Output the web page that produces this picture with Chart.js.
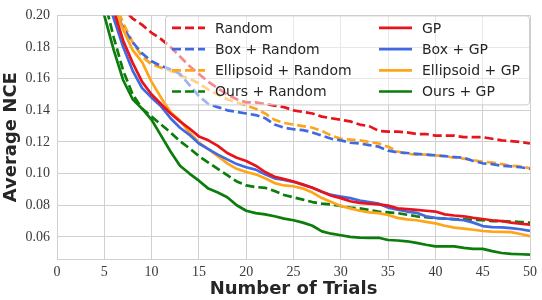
<!DOCTYPE html>
<html>
<head>
<meta charset="utf-8">
<script src="https://cdn.jsdelivr.net/npm/chart.js@4.4.1/dist/chart.umd.min.js"></script>
<style>
  html, body { margin: 0; padding: 0; background: #fff; }
</style>
</head>
<body>
<canvas id="grafico" width="542" height="300"></canvas>
<script>
// Número de tentativas (eixo x) e valores
const trials = [4, 5, 6, 7, 8, 9, 10, 11, 12, 13, 14, 15, 16, 17, 18, 19, 20, 21, 22, 23, 24, 25, 26, 27,
    28, 29, 30, 31, 32, 33, 34, 35, 36, 37, 38, 39, 40, 41, 42, 43, 44, 45, 46, 47, 48, 49, 50];

const random = [0.225, 0.218, 0.211, 0.204, 0.198, 0.194, 0.189, 0.185, 0.180, 0.174, 0.168, 0.163,
    0.158, 0.154, 0.150, 0.147, 0.145, 0.145, 0.144, 0.143, 0.142, 0.140, 0.139, 0.138, 0.136, 0.135,
    0.134, 0.133, 0.131, 0.130, 0.127, 0.1265, 0.1265, 0.126, 0.125, 0.125, 0.124, 0.124, 0.124,
    0.123, 0.123, 0.123, 0.122, 0.121, 0.1205, 0.120, 0.119];
const boxRandom = [0.235, 0.220, 0.205, 0.192, 0.183, 0.176, 0.171, 0.168, 0.166, 0.163, 0.156, 0.149,
    0.144, 0.142, 0.140, 0.139, 0.138, 0.137, 0.135, 0.131, 0.129, 0.128, 0.1275, 0.126, 0.124, 0.122,
    0.121, 0.1195, 0.119, 0.118, 0.117, 0.1145, 0.1135, 0.113, 0.1125, 0.112, 0.1115, 0.111, 0.1105,
    0.110, 0.108, 0.1065, 0.106, 0.105, 0.1045, 0.104, 0.103];
const ellipsoidRandom = [0.240, 0.225, 0.210, 0.195, 0.183, 0.174, 0.169, 0.167, 0.165, 0.162, 0.160,
    0.157, 0.153, 0.150, 0.147, 0.145, 0.143, 0.141, 0.138, 0.134, 0.132, 0.131, 0.130, 0.129, 0.127,
    0.124, 0.122, 0.1215, 0.121, 0.120, 0.119, 0.117, 0.114, 0.1125, 0.112, 0.112, 0.1115, 0.111,
    0.110, 0.1095, 0.1085, 0.1075, 0.107, 0.106, 0.105, 0.1045, 0.1035];
const oursRandom = [0.235, 0.210, 0.186, 0.165, 0.150, 0.141, 0.136, 0.131, 0.126, 0.1205, 0.116, 0.111,
    0.107, 0.103, 0.099, 0.095, 0.0925, 0.0915, 0.091, 0.089, 0.0865, 0.085, 0.0835, 0.082, 0.081,
    0.0805, 0.0795, 0.0785, 0.078, 0.077, 0.076, 0.0755, 0.075, 0.074, 0.073, 0.0725, 0.0718, 0.0715,
    0.0712, 0.071, 0.0708, 0.0705, 0.070, 0.070, 0.0697, 0.0694, 0.069];
const gp = [0.240, 0.222, 0.203, 0.184, 0.170, 0.158, 0.150, 0.144, 0.138, 0.133, 0.1285, 0.1235,
    0.121, 0.1175, 0.113, 0.110, 0.108, 0.105, 0.101, 0.098, 0.0965, 0.095, 0.093, 0.091, 0.0885,
    0.086, 0.0845, 0.0825, 0.0815, 0.081, 0.0805, 0.0798, 0.078, 0.0775, 0.077, 0.0765, 0.076, 0.0742,
    0.0735, 0.073, 0.072, 0.0713, 0.0705, 0.070, 0.069, 0.0683, 0.0677];
const boxGp = [0.235, 0.216, 0.198, 0.180, 0.165, 0.154, 0.148, 0.1425, 0.135, 0.129, 0.1245, 0.119,
    0.1155, 0.112, 0.109, 0.106, 0.104, 0.1025, 0.0995, 0.097, 0.096, 0.0948, 0.093, 0.091, 0.0885,
    0.0865, 0.0855, 0.0845, 0.083, 0.082, 0.081, 0.0785, 0.0772, 0.076, 0.0752, 0.073, 0.072, 0.0716,
    0.071, 0.0705, 0.069, 0.0668, 0.0662, 0.066, 0.0655, 0.0648, 0.0638];
const ellipsoidGp = [0.245, 0.225, 0.205, 0.191, 0.178, 0.1705, 0.158, 0.148, 0.139, 0.1335, 0.126,
    0.1195, 0.1155, 0.111, 0.1065, 0.103, 0.101, 0.0995, 0.097, 0.094, 0.0925, 0.092, 0.0905, 0.088,
    0.0845, 0.082, 0.0795, 0.078, 0.0765, 0.0755, 0.075, 0.0738, 0.072, 0.071, 0.0705, 0.0695, 0.0685,
    0.067, 0.0658, 0.0652, 0.0645, 0.0637, 0.0633, 0.0632, 0.063, 0.0618, 0.0605];
const oursGp = [0.225, 0.200, 0.178, 0.159, 0.147, 0.141, 0.134, 0.124, 0.114, 0.105, 0.100, 0.0955,
    0.0905, 0.088, 0.085, 0.080, 0.0765, 0.075, 0.0742, 0.073, 0.0715, 0.0705, 0.069, 0.067, 0.0635,
    0.062, 0.061, 0.060, 0.0595, 0.0594, 0.0594, 0.058, 0.0577, 0.0572, 0.0562, 0.055, 0.054, 0.054,
    0.054, 0.053, 0.0524, 0.0524, 0.051, 0.0498, 0.0492, 0.049, 0.0488];

const xTicks = [0, 5, 10, 15, 20, 25, 30, 35, 40, 45, 50];
const yTicks = [0.06, 0.08, 0.10, 0.12, 0.14, 0.16, 0.18, 0.20];

const seriesNames = ["Random", "Box + Random", "Ellipsoid + Random", "Ours + Random",
    "GP", "Box + GP", "Ellipsoid + GP", "Ours + GP"];
const seriesValues = [random, boxRandom, ellipsoidRandom, oursRandom, gp, boxGp, ellipsoidGp, oursGp];
const colors = ["#e8141c", "#4169e1", "#ffa51a", "#0a7d0a"];

const gridColor = "#d0d0d0";
const dash = [9, 4];

// monta os datasets (tracejados = Random, contínuos = GP)
const datasets = seriesValues.map((vals, i) => {
    const dashed = i < 4;
    return {
        label: seriesNames[i],
        data: vals.map((v, k) => ({ x: trials[k], y: v })),
        borderColor: colors[i % 4],
        borderWidth: 2.7,
        borderDash: dashed ? dash : [],
        borderJoinStyle: "round",
        pointRadius: 0,
        fill: false,
        tension: 0,
        order: dashed ? 1 : 0
    };
});

// legenda desenhada dentro da área do gráfico, duas colunas
const legendaInterna = {
    id: "legendaInterna",
    afterDatasetsDraw(chart) {
        const ctx = chart.ctx;
        const area = chart.chartArea;
        const w = 365, h = 89;
        const left = area.right - w, top = area.top;
        ctx.save();
        ctx.beginPath();
        ctx.roundRect(left + 0.5, top + 0.5, w - 1, h, 3);
        ctx.fillStyle = "rgba(255,255,255,0.5)";
        ctx.fill();
        ctx.strokeStyle = "#cccccc";
        ctx.lineWidth = 1;
        ctx.stroke();

        ctx.font = "14px 'DejaVu Sans'";
        ctx.textBaseline = "middle";
        ctx.fillStyle = "#262626";
        const colX = [left + 7, left + 214];
        chart.data.datasets.forEach((ds, i) => {
            const col = i < 4 ? 0 : 1;
            const row = i % 4;
            const y = top + 12.5 + row * 21.2;
            const x0 = colX[col];
            ctx.beginPath();
            ctx.setLineDash(ds.borderDash);
            ctx.strokeStyle = ds.borderColor;
            ctx.lineWidth = ds.borderWidth;
            ctx.moveTo(x0, y);
            ctx.lineTo(x0 + 33, y);
            ctx.stroke();
            ctx.setLineDash([]);
            ctx.fillText(ds.label, x0 + 43, y + 1);
        });
        ctx.restore();
    }
};

const contexto = document.getElementById("grafico").getContext("2d");
new Chart(contexto, {
    type: "line",
    data: { datasets: datasets },
    options: {
        responsive: false,
        animation: false,
        devicePixelRatio: 1,
        layout: { padding: { top: 5, right: 9, left: 0, bottom: 0 } },
        plugins: {
            legend: { display: false },
            tooltip: { enabled: false }
        },
        scales: {
            x: {
                type: "linear",
                min: 0,
                max: 50,
                afterBuildTicks: (s) => { s.ticks = xTicks.map(v => ({ value: v })); },
                afterFit: (s) => { s.height = 41; },
                ticks: {
                    font: { family: "'Liberation Serif'", size: 14 },
                    color: "#3a3a3a",
                    padding: 5,
                    maxRotation: 0,
                    callback: (v) => String(v)
                },
                grid: { color: gridColor, lineWidth: 1, drawTicks: false },
                border: { color: gridColor },
                title: {
                    display: true,
                    text: "Number of Trials",
                    font: { family: "'DejaVu Sans'", size: 18, weight: "bold" },
                    color: "#262626",
                    padding: { top: 0, bottom: 0 }
                }
            },
            y: {
                min: 0.046,
                max: 0.20,
                afterBuildTicks: (s) => { s.ticks = yTicks.map(v => ({ value: v })); },
                afterFit: (s) => { s.width = 57; },
                ticks: {
                    font: { family: "'Liberation Serif'", size: 14 },
                    color: "#3a3a3a",
                    padding: 7,
                    callback: (v) => v.toFixed(2)
                },
                grid: { color: gridColor, lineWidth: 1, drawTicks: false },
                border: { color: gridColor },
                title: {
                    display: true,
                    text: "Average NCE",
                    font: { family: "'DejaVu Sans'", size: 18, weight: "bold" },
                    color: "#262626",
                    padding: { top: 1, bottom: 0 }
                }
            }
        }
    },
    plugins: [legendaInterna]
});
</script>
</body>
</html>
